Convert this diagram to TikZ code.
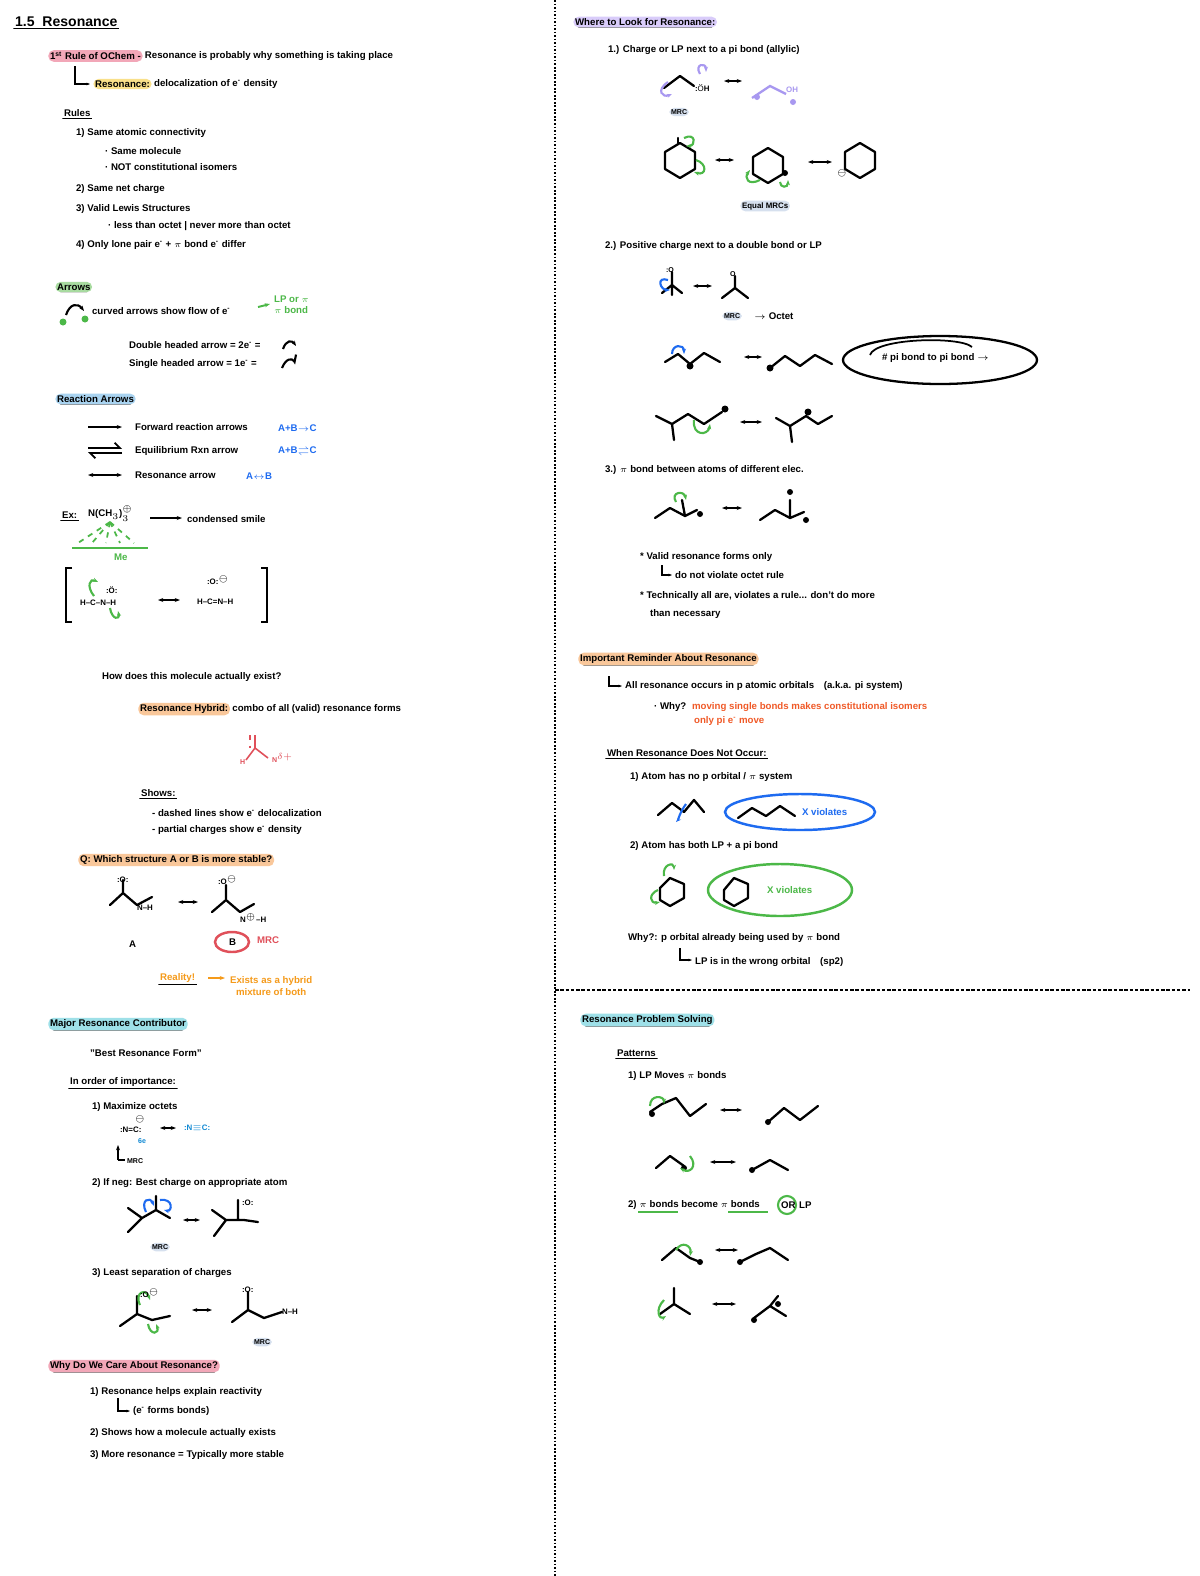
\documentclass[tikz,border=0pt]{standalone}
\usepackage{fontspec}
\setmainfont{Liberation Sans}
\usetikzlibrary{arrows.meta}
\definecolor{hpink}{HTML}{F2A7B8}
\definecolor{hyel}{HTML}{F9E08A}
\definecolor{hgreen}{HTML}{A8DBA0}
\definecolor{hblue}{HTML}{A9D3F0}
\definecolor{hpurp}{HTML}{D9CCFA}
\definecolor{horange}{HTML}{F9C79A}
\definecolor{hcyan}{HTML}{9EE0E8}
\definecolor{hgrey}{HTML}{D6E0EE}
\definecolor{cgreen}{HTML}{4CB848}
\definecolor{cblue}{HTML}{1E6BF0}
\definecolor{cpurp}{HTML}{A898F0}
\definecolor{cred}{HTML}{E0505A}
\definecolor{corange}{HTML}{F59A1A}
\definecolor{cred2}{HTML}{F05A28}
\tikzset{
 txt/.style={anchor=west,inner sep=1pt,font=\fontsize{5.5}{6.5}\selectfont\bfseries},
 hl/.style={txt,fill=#1,rounded corners=3pt},
 ul/.style={txt,path picture={\draw[line width=0.6pt] (path picture bounding box.south west)--(path picture bounding box.south east);}},
 bond/.style={line width=1.3pt,line join=round,line cap=round},
 curv/.style={line width=1.2pt,-{Stealth[length=3pt]}},
 rarr/.style={line width=1.1pt,{Stealth[length=3pt]}-{Stealth[length=3pt]}},
 farr/.style={line width=1.1pt,-{Stealth[length=3pt]}},
}
\begin{document}
\begin{tikzpicture}[x=0.02cm,y=-0.02cm]
\useasboundingbox (0,0) rectangle (1200,1576);
\fill[white] (0,0) rectangle (1200,1576);
% dividers
\draw[line width=1pt,dash pattern=on 1pt off 1pt] (555,0) -- (555,1576);
\draw[line width=1pt,dash pattern=on 2pt off 1pt] (555,990) -- (1190,990);
% ---------------- LEFT COLUMN ----------------
\node[ul,font=\fontsize{8}{9}\selectfont\bfseries] (t0) at (13,22) {1.5\ \ Resonance};
\node[hl=hpink] (t1) at (48,56) {1\textsuperscript{st} Rule of OChem -};
\node[txt] (t1b) at (t1.east) {Resonance is probably why something is taking place};
\draw[line width=0.8pt,-{Stealth[length=2pt]}] (75,66) -- (75,84) -- (90,84);
\node[hl=hyel] (t2) at (93,84) {Resonance:};
\node[txt] at (t2.east) {delocalization of e\textsuperscript{-} density};
\node[ul] at (62,113) {Rules};
\node[txt] at (74,133) {1) Same atomic connectivity};
\node[txt] at (103,151) {· Same molecule};
\node[txt] at (103,167) {· NOT constitutional isomers};
\node[txt] at (74,189) {2) Same net charge};
\node[txt] at (74,209) {3) Valid Lewis Structures};
\node[txt] at (106,226) {· less than octet | never more than octet};
\node[txt] at (74,245) {4) Only lone pair e\textsuperscript{-} + $\pi$ bond e\textsuperscript{-} differ};
\node[hl=hgreen,ul] at (55,287) {Arrows};
\fill[cgreen] (63,322) circle (3.5); \fill[cgreen] (85,319) circle (3.5);
\draw[curv] (66,315) .. controls (70,303) and (78,303) .. (84,311);
\node[txt] at (90,311) {curved arrows show flow of e\textsuperscript{-}};
\draw[farr,cgreen] (258,307) -- (270,304);
\node[txt,text=cgreen,align=left] at (272,305) {LP or $\pi$\\ $\pi$ bond};
\node[txt] at (127,345) {Double headed arrow = 2e\textsuperscript{-} =};
\draw[curv] (283,349) .. controls (286,340) and (292,340) .. (296,346);
\node[txt] at (127,364) {Single headed arrow = 1e\textsuperscript{-} =};
\draw[line width=1.2pt,-{Straight Barb[length=3pt,left]}] (282,368) .. controls (286,358) and (292,358) .. (296,364);
\node[hl=hblue,ul] at (55,399) {Reaction Arrows};
\draw[farr] (88,427) -- (122,427);
\node[txt] at (133,427) {Forward reaction arrows};
\node[txt,text=cblue] at (276,428) {A+B$\rightarrow$C};
\draw[line width=1pt,-{Straight Barb[length=3pt,left]}] (88,448) -- (122,448);
\draw[line width=1pt,-{Straight Barb[length=3pt,left]}] (122,453) -- (88,453);
\node[txt] at (133,451) {Equilibrium Rxn arrow};
\node[txt,text=cblue] at (276,451) {A+B$\rightleftharpoons$C};
\draw[rarr] (88,475) -- (122,475);
\node[txt] at (133,475) {Resonance arrow};
\node[txt,text=cblue] at (244,476) {A$\leftrightarrow$B};
% Ex
\node[ul] at (60,515) {Ex:};
\node[txt] (nme) at (86,514) {N(CH$_3$)$_3^\oplus$};
\foreach \xx in {78,92,106,120,134} {\draw[cgreen,line width=1pt,dashed] (110,522) -- (\xx,543);}
\draw[cgreen,line width=1.2pt] (72,548) -- (148,548);
\node[txt,text=cgreen] at (112,557) {Me};
\draw[farr] (150,518) -- (182,518);
\node[txt] at (185,519) {condensed smile};
% bracket
\draw[line width=1pt] (72,568) -- (66,568) -- (66,622) -- (72,622);
\draw[line width=1pt] (261,568) -- (267,568) -- (267,622) -- (261,622);
\node[txt,font=\fontsize{4.5}{5}\selectfont\bfseries] at (78,603) {H--C--N--H};
\draw[curv,cgreen] (94,596) .. controls (86,586) and (90,578) .. (98,582);
\draw[curv,cgreen] (110,608) .. controls (112,620) and (120,620) .. (118,611);
\node[txt,font=\fontsize{4.5}{5}\selectfont\bfseries] at (104,590) {:\"O:};
\draw[rarr] (158,600) -- (180,600);
\node[txt,font=\fontsize{4.5}{5}\selectfont\bfseries] at (195,602) {H--C=N--H};
\node[txt,font=\fontsize{4.5}{5}\selectfont\bfseries] at (205,580) {:O:$^\ominus$};
\node[txt] at (100,677) {How does this molecule actually exist?};
\node[hl=horange] (rh) at (138,709) {Resonance Hybrid:};
\node[txt] at (rh.east) {combo of all (valid) resonance forms};
\draw[cred,line width=0.9pt] (255,735) -- (255,748) (246,760) -- (255,748) -- (268,758);
\draw[cred,line width=0.9pt,dashed] (250,735) -- (250,748);
\node[txt,text=cred,font=\fontsize{4}{5}\selectfont\bfseries] at (238,762) {H};
\node[txt,text=cred,font=\fontsize{4}{5}\selectfont\bfseries] at (270,758) {N$^{\delta+}$};
\node[ul] at (139,793) {Shows:};
\node[txt] at (150,813) {- dashed lines show e\textsuperscript{-} delocalization};
\node[txt] at (150,830) {- partial charges show e\textsuperscript{-} density};
\node[hl=horange] at (78,860) {Q: Which structure A or B is more stable?};
% A and B
\draw[bond] (110,905) -- (123,893) -- (137,905) -- (152,897) (123,893) -- (123,880);
\node[txt,font=\fontsize{4.5}{5}\selectfont\bfseries] at (115,880) {:O:};
\node[txt,font=\fontsize{4.5}{5}\selectfont\bfseries] at (135,908) {N--H};
\draw[rarr] (178,902) -- (198,902);
\draw[bond] (212,912) -- (226,900) -- (240,912) -- (254,904) (226,900) -- (226,885);
\node[txt,font=\fontsize{4.5}{5}\selectfont\bfseries] at (216,880) {:O$^\ominus$};
\node[txt,font=\fontsize{4.5}{5}\selectfont\bfseries] at (238,918) {N$^\oplus$--H};
\node[txt] at (127,944) {A};
\draw[cred,line width=1.4pt] (232,942) ellipse (17 and 10);
\node[txt] at (227,942) {B};
\node[txt,text=cred] at (255,940) {MRC};
\node[ul,text=corange] at (158,978) {Reality!};
\draw[farr,corange] (208,978) -- (225,978);
\node[txt,text=corange,align=center] at (228,986) {Exists as a hybrid\\ mixture of both};
\node[hl=hcyan,ul] at (48,1024) {Major Resonance Contributor};
\node[txt] at (88,1053) {"Best Resonance Form"};
\node[ul] at (68,1082) {In order of importance:};
\node[txt] at (90,1107) {1) Maximize octets};
\node[txt,font=\fontsize{4.5}{5}\selectfont\bfseries] at (118,1130) {:N=C:};
\node[txt,font=\fontsize{4.5}{5}\selectfont\bfseries] at (133,1119) {$\ominus$};
\draw[rarr] (160,1128) -- (176,1128);
\node[txt,text=cyan!70!blue,font=\fontsize{4.5}{5}\selectfont\bfseries] at (182,1128) {:N$\equiv$C:};
\node[txt,text=cyan!70!blue,font=\fontsize{4}{5}\selectfont\bfseries] at (136,1141) {6e};
\draw[farr] (118,1160) -- (118,1145);
\draw[line width=1pt] (118,1160) -- (125,1160);
\node[txt,font=\fontsize{4}{5}\selectfont\bfseries] at (125,1161) {MRC};
\node[txt] at (90,1183) {2) If neg: Best charge on appropriate atom};
\draw[bond] (128,1208) -- (142,1218) -- (156,1210) -- (170,1218) (142,1218) -- (128,1232) (156,1210) -- (156,1196);
\draw[curv,cblue] (146,1212) .. controls (140,1200) and (150,1196) .. (154,1206);
\draw[curv,cblue] (160,1200) .. controls (174,1198) and (172,1212) .. (164,1210);
\draw[rarr] (183,1220) -- (200,1220);
\draw[bond] (212,1210) -- (226,1220) -- (244,1220) -- (258,1222) (226,1220) -- (214,1236) (238,1220) -- (238,1200);
\node[txt,font=\fontsize{4.5}{5}\selectfont\bfseries] at (240,1203) {:O:};
\node[hl=hgrey,font=\fontsize{4}{5}\selectfont\bfseries] at (150,1247) {MRC};
\node[txt] at (90,1273) {3) Least separation of charges};
\draw[bond] (120,1326) -- (137,1314) -- (152,1320) -- (170,1316) (137,1314) -- (137,1296);
\draw[curv,cgreen] (140,1305) .. controls (134,1292) and (146,1288) .. (150,1300);
\draw[curv,cgreen] (148,1324) .. controls (150,1336) and (160,1334) .. (156,1324);
\node[txt,font=\fontsize{4.5}{5}\selectfont\bfseries] at (138,1293) {:O$^\ominus$};
\draw[rarr] (192,1310) -- (212,1310);
\draw[bond] (232,1322) -- (248,1310) -- (264,1318) -- (282,1312) (248,1310) -- (248,1292);
\node[txt,font=\fontsize{4.5}{5}\selectfont\bfseries] at (240,1290) {:O:};
\node[txt,font=\fontsize{4.5}{5}\selectfont\bfseries] at (280,1312) {N--H};
\node[hl=hgrey,font=\fontsize{4}{5}\selectfont\bfseries] at (252,1342) {MRC};
\node[hl=hpink,ul] at (48,1366) {Why Do We Care About Resonance?};
\node[txt] at (88,1392) {1) Resonance helps explain reactivity};
\draw[line width=0.8pt,-{Stealth[length=2pt]}] (118,1398) -- (118,1411) -- (130,1411);
\node[txt] at (131,1411) {(e\textsuperscript{-} forms bonds)};
\node[txt] at (88,1433) {2) Shows how a molecule actually exists};
\node[txt] at (88,1455) {3) More resonance = Typically more stable};
% ---------------- RIGHT COLUMN ----------------
\node[hl=hpurp,ul] at (573,22) {Where to Look for Resonance:};
\node[txt] at (606,50) {1.) Charge or LP next to a pi bond (allylic)};
\draw[bond] (664,88) -- (680,76) -- (694,86);
\draw[curv,cpurp] (668,82) .. controls (656,90) and (662,98) .. (672,94);
\draw[curv,cpurp] (700,74) .. controls (694,64) and (706,62) .. (706,72);
\node[txt,font=\fontsize{4.5}{5}\selectfont\bfseries] at (693,88) {:$\ddot{\rm O}$H};
\draw[rarr] (724,81) -- (742,81);
\draw[cpurp,line width=1.3pt] (752,98) -- (770,86) -- (786,94);
\node[txt,text=cpurp,font=\fontsize{4.5}{5}\selectfont\bfseries] at (784,90) {OH};
\fill[cpurp] (757,97) circle (3); \fill[cpurp] (793,102) circle (3);
\node[hl=hgrey,font=\fontsize{4}{5}\selectfont\bfseries] at (669,112) {MRC};
% rings
\foreach \cx/\cy in {680/160, 768/165, 860/160} {
  \draw[bond] (\cx,\cy-17) -- (\cx+15,\cy-8) -- (\cx+15,\cy+9) -- (\cx,\cy+18) -- (\cx-15,\cy+9) -- (\cx-15,\cy-8) -- cycle;
}
\draw[bond] (678,143) -- (678,138);
\draw[curv,cgreen] (684,138) .. controls (696,132) and (696,146) .. (686,146);
\draw[curv,cgreen] (696,160) .. controls (708,164) and (706,176) .. (694,172);
\draw[rarr] (715,160) -- (734,160);
\fill (785,173) circle (3);
\draw[curv,cgreen] (760,180) .. controls (748,186) and (744,178) .. (750,170);
\draw[curv,cgreen] (780,182) .. controls (780,188) and (788,188) .. (788,180);
\draw[rarr] (808,162) -- (832,162);
\node[txt,font=\fontsize{4.5}{5}\selectfont\bfseries] at (835,173) {$\ominus$};
\node[hl=hgrey,font=\fontsize{4.5}{5}\selectfont\bfseries] at (740,206) {Equal MRCs};
\node[txt] at (603,246) {2.) Positive charge next to a double bond or LP};
\draw[bond] (672,272) -- (672,295) (662,293) -- (672,285) -- (682,293);
\node[txt,font=\fontsize{4}{5}\selectfont\bfseries] at (664,270) {:O};
\draw[curv,cblue] (668,280) .. controls (656,276) and (660,290) .. (670,290);
\draw[rarr] (693,286) -- (712,286);
\draw[bond] (735,276) -- (735,288) -- (722,298) (735,288) -- (748,298);
\node[txt,font=\fontsize{4}{5}\selectfont\bfseries] at (728,274) {O};
\node[hl=hgrey,font=\fontsize{4}{5}\selectfont\bfseries] at (722,316) {MRC};
\node[txt] at (752,316) {$\rightarrow$ Octet};
\draw[bond] (665,362) -- (678,354) -- (690,364) -- (704,353) -- (720,362);
\fill (690,366) circle (3.5);
\draw[curv,cblue] (672,354) .. controls (672,344) and (684,344) .. (684,354);
\draw[rarr] (744,357) -- (762,357);
\draw[bond] (770,368) -- (785,356) -- (800,366) -- (815,355) -- (832,364);
\fill (770,368) circle (3.5);
\draw[line width=1.3pt] (940,360) ellipse (97 and 24);
\draw[line width=1pt] (870,355) .. controls (875,338) and (960,336) .. (972,347);
\node[txt] at (880,358) {\# pi bond to pi bond $\rightarrow$};
\draw[bond] (656,416) -- (672,424) -- (688,414) -- (704,424) -- (722,412) (672,424) -- (674,440);
\fill (725,409) circle (3.5);
\draw[curv,cgreen] (694,420) .. controls (692,436) and (708,436) .. (710,424);
\draw[rarr] (740,422) -- (762,422);
\draw[bond] (776,418) -- (790,426) -- (806,416) -- (818,424) -- (832,416) (790,426) -- (792,442);
\fill (808,412) circle (3.5);
\node[txt] at (603,470) {3.) $\pi$ bond between atoms of different elec.};
\draw[bond] (655,518) -- (670,508) -- (685,516) -- (697,510) (685,516) -- (682,500);
\fill (700,514) circle (3);
\draw[curv,cgreen] (676,502) .. controls (670,492) and (684,490) .. (686,500);
\draw[rarr] (722,508) -- (742,508);
\draw[bond] (760,520) -- (775,510) -- (790,518) -- (804,512) (790,518) -- (790,500);
\fill (790,492) circle (3); \fill (806,520) circle (3);
\node[txt] at (638,557) {* Valid resonance forms only};
\draw[line width=0.8pt,-{Stealth[length=2pt]}] (662,565) -- (662,575) -- (672,575);
\node[txt] at (673,575) {do not violate octet rule};
\node[txt] at (638,596) {* Technically all are, violates a rule... don't do more};
\node[txt] at (648,614) {than necessary};
\node[hl=horange,ul] at (578,659) {Important Reminder About Resonance};
\draw[line width=0.8pt,-{Stealth[length=2pt]}] (609,676) -- (609,686) -- (622,686);
\node[txt] at (623,686) {All resonance occurs in p atomic orbitals\quad (a.k.a. pi system)};
\node[txt] at (652,707) {· Why?};
\node[txt,text=cred2] at (690,707) {moving single bonds makes constitutional isomers};
\node[txt,text=cred2] at (692,721) {only pi e\textsuperscript{-} move};
\node[ul] at (605,753) {When Resonance Does Not Occur:};
\node[txt] at (628,777) {1) Atom has no p orbital / $\pi$ system};
\draw[bond] (658,815) -- (672,803) -- (684,812) -- (694,800) -- (704,812);
\draw[curv,cblue] (686,804) .. controls (680,812) and (678,820) .. (676,822);
\draw[line width=1.4pt,cblue] (800,812) ellipse (75 and 18);
\draw[bond] (738,818) -- (752,808) -- (766,816) -- (780,806) -- (795,816);
\node[txt,text=cblue] at (800,812) {X violates};
\node[txt] at (628,846) {2) Atom has both LP + a pi bond};
\draw[bond] (660,888) -- (670,878) -- (684,884) -- (684,898) -- (670,906) -- (660,900) -- cycle;
\draw[curv,cgreen] (664,876) .. controls (662,864) and (674,862) .. (674,870);
\draw[curv,cgreen] (658,890) .. controls (648,894) and (650,904) .. (660,902);
\draw[line width=1.4pt,cgreen] (780,890) ellipse (72 and 26);
\draw[bond] (724,890) -- (734,878) -- (748,884) -- (748,898) -- (734,906) -- (724,900) -- cycle;
\node[txt,text=cgreen] at (765,890) {X violates};
\node[txt] at (626,938) {Why?: p orbital already being used by $\pi$ bond};
\draw[line width=0.8pt,-{Stealth[length=2pt]}] (680,948) -- (680,960) -- (692,960);
\node[txt] at (693,962) {LP is in the wrong orbital\quad (sp2)};
\node[hl=hcyan,ul] at (580,1020) {Resonance Problem Solving};
\node[ul] at (615,1053) {Patterns};
\node[txt] at (626,1076) {1) LP Moves $\pi$ bonds};
\draw[bond] (650,1112) -- (662,1104) -- (676,1098) -- (690,1116) -- (706,1104);
\fill (652,1114) circle (3);
\draw[curv,cgreen] (650,1106) .. controls (650,1094) and (664,1096) .. (664,1104);
\draw[rarr] (720,1110) -- (742,1110);
\draw[bond] (768,1122) -- (784,1108) -- (800,1120) -- (818,1106);
\fill (768,1122) circle (3);
\draw[bond] (656,1168) -- (670,1156) -- (684,1166);
\fill (684,1168) circle (3);
\draw[curv,cgreen] (690,1156) .. controls (698,1166) and (690,1174) .. (680,1168);
\draw[rarr] (710,1162) -- (736,1162);
\draw[bond] (752,1170) -- (770,1160) -- (788,1170);
\fill (752,1170) circle (3);
\node[txt] at (626,1205) {2) $\pi$ bonds become $\pi$ bonds};
\draw[line width=1.2pt,cgreen] (787,1205) circle (9);
\node[txt] at (779,1205) {OR};
\node[txt] at (797,1205) {LP};
\draw[cgreen,line width=1pt] (638,1212) -- (678,1212) (728,1212) -- (768,1212);
\draw[bond] (662,1260) -- (676,1248) -- (690,1258) -- (700,1262);
\fill (700,1262) circle (3);
\draw[curv,cgreen] (676,1250) .. controls (682,1240) and (692,1246) .. (690,1256);
\draw[rarr] (715,1250) -- (738,1250);
\draw[bond] (740,1262) -- (756,1254) -- (770,1248) -- (788,1260);
\fill (740,1262) circle (3);
\draw[bond] (660,1314) -- (674,1304) -- (690,1314) (674,1304) -- (674,1288);
\draw[curv,cgreen] (664,1300) .. controls (654,1310) and (660,1320) .. (666,1316);
\draw[rarr] (712,1304) -- (736,1304);
\draw[bond] (754,1318) -- (770,1306) -- (786,1316) (770,1306) -- (778,1296);
\fill (754,1320) circle (3); \fill (778,1304) circle (3);
\end{tikzpicture}
\end{document}
